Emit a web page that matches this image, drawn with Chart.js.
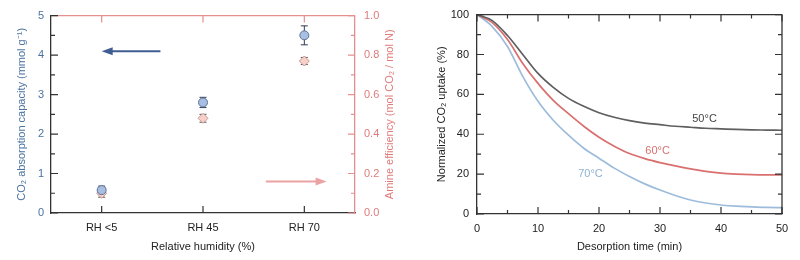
<!DOCTYPE html>
<html>
<head>
<meta charset="utf-8">
<script src="https://cdn.jsdelivr.net/npm/chart.js@4.4.0/dist/chart.umd.min.js"></script>
<style>
    body { margin: 0; background: #fff; }
    #wrap { position: relative; width: 800px; height: 260px; }
    canvas { position: absolute; top: 0; }
</style>
</head>
<body>
<div id="wrap">
    <canvas id="humidityChart" width="400" height="260" style="left:0"></canvas>
    <canvas id="desorptionChart" width="400" height="260" style="left:400px"></canvas>
</div>
<script>
// Left panel: capacity / amine efficiency vs humidity
const humidityLabels = ['RH <5', 'RH 45', 'RH 70'];
const capacityValues = [0.58, 2.8, 4.5];
const capacityErrors = [0.1, 0.13, 0.24];
const efficiencyValues = [0.1, 0.48, 0.77];
const efficiencyErrors = [0.02, 0.02, 0.018];

// Right panel: normalized uptake vs desorption time
const timeMinutes = [0, 2.5, 5, 7.5, 10, 12.5, 15, 17.5, 20, 22.5, 25, 27.5, 30, 32.5, 35, 37.5, 40, 42.5, 45, 47.5, 50];
const uptake50 = [100, 97, 89.5, 80, 70.5, 63.5, 58, 54, 50.8, 48.5, 46.8, 45.6, 44.8, 44, 43.5, 43, 42.7, 42.4, 42.2, 42.1, 42];
const uptake60 = [100, 96, 87.5, 75.5, 65.5, 57, 50.3, 44, 38.5, 34, 30.3, 27.8, 25.8, 24.1, 22.6, 21.4, 20.5, 20, 19.7, 19.6, 19.6];
const uptake70 = [100, 94, 84, 69, 56.5, 47, 39.5, 33, 28, 23, 18.8, 15.1, 12, 9.3, 7, 5.5, 4.5, 3.9, 3.6, 3.3, 3.2];

const FONT = 'Liberation Sans, Arial, sans-serif';
const BLUE_TEXT = '#4a72a0';
const PINK_TEXT = '#e07b7b';
const PINK_AXIS = '#e58f8f';
const AXIS_DARK = '#333';

// Minor ticks sit halfway between major ticks
function midpoints(vals) {
    const out = [];
    for (let i = 0; i < vals.length - 1; i++) out.push((vals[i] + vals[i + 1]) / 2);
    return out;
}

// Inward tick marks on a given edge of the plot area
function innerTicks(ctx, scale, edge, values, len, color) {
    const a = scale.chart.chartArea;
    ctx.save();
    ctx.strokeStyle = color;
    ctx.lineWidth = 1.2;
    ctx.beginPath();
    values.forEach(v => {
        const p = scale.getPixelForValue(v);
        if (edge === 'bottom') { ctx.moveTo(p, a.bottom); ctx.lineTo(p, a.bottom - len); }
        if (edge === 'top') { ctx.moveTo(p, a.top); ctx.lineTo(p, a.top + len); }
        if (edge === 'left') { ctx.moveTo(a.left, p); ctx.lineTo(a.left + len, p); }
        if (edge === 'right') { ctx.moveTo(a.right, p); ctx.lineTo(a.right - len, p); }
    });
    ctx.stroke();
    ctx.restore();
}

function edgeLine(ctx, x1, y1, x2, y2, color) {
    ctx.save();
    ctx.strokeStyle = color;
    ctx.lineWidth = 1.3;
    ctx.beginPath();
    ctx.moveTo(x1, y1);
    ctx.lineTo(x2, y2);
    ctx.stroke();
    ctx.restore();
}

function arrow(ctx, x1, x2, y, color) {
    const dir = x2 > x1 ? 1 : -1;
    ctx.save();
    ctx.strokeStyle = color;
    ctx.fillStyle = color;
    ctx.lineWidth = 2;
    ctx.beginPath();
    ctx.moveTo(x1, y);
    ctx.lineTo(x2 - dir * 8, y);
    ctx.stroke();
    ctx.beginPath();
    ctx.moveTo(x2, y);
    ctx.lineTo(x2 - dir * 11, y - 4);
    ctx.lineTo(x2 - dir * 11, y + 4);
    ctx.closePath();
    ctx.fill();
    ctx.restore();
}

function errorBars(ctx, chart, datasetIndex, scaleId, values, errors, color) {
    const meta = chart.getDatasetMeta(datasetIndex);
    const scale = chart.scales[scaleId];
    ctx.save();
    ctx.strokeStyle = color;
    ctx.lineWidth = 1;
    values.forEach((v, i) => {
        const x = meta.data[i].x;
        const yTop = scale.getPixelForValue(v + errors[i]);
        const yBot = scale.getPixelForValue(v - errors[i]);
        ctx.beginPath();
        ctx.moveTo(x, yTop); ctx.lineTo(x, yBot);
        ctx.moveTo(x - 3.5, yTop); ctx.lineTo(x + 3.5, yTop);
        ctx.moveTo(x - 3.5, yBot); ctx.lineTo(x + 3.5, yBot);
        ctx.stroke();
    });
    ctx.restore();
}

// Left chart
const humidityPlugin = {
    id: 'humidityDecor',
    beforeDatasetsDraw(chart) {
        const ctx = chart.ctx;
        errorBars(ctx, chart, 0, 'y', capacityValues, capacityErrors, '#2e3a55');
        errorBars(ctx, chart, 1, 'y1', efficiencyValues, efficiencyErrors, '#555');
    },
    afterDraw(chart) {
        const ctx = chart.ctx;
        const a = chart.chartArea;
        const { x, y, y1 } = chart.scales;
        edgeLine(ctx, a.left, a.top, a.right, a.top, PINK_AXIS);

        const xTicks = x.ticks.map(t => t.value);
        innerTicks(ctx, x, 'bottom', xTicks, 7, AXIS_DARK);
        innerTicks(ctx, x, 'top', xTicks, 7, PINK_AXIS);

        const yTicks = y.ticks.map(t => t.value);
        innerTicks(ctx, y, 'left', yTicks, 7, AXIS_DARK);
        innerTicks(ctx, y, 'left', midpoints(yTicks), 4, AXIS_DARK);

        const y1Ticks = y1.ticks.map(t => t.value);
        innerTicks(ctx, y1, 'right', y1Ticks, 7, PINK_AXIS);
        innerTicks(ctx, y1, 'right', midpoints(y1Ticks), 4, PINK_AXIS);

        // arrows point to the axis each series belongs to
        arrow(ctx, x.getPixelForValue(0.58), x.getPixelForValue(0), y.getPixelForValue(4.1), '#3f5d93');
        arrow(ctx, x.getPixelForValue(1.62), x.getPixelForValue(2.22), y1.getPixelForValue(0.16), '#eba2a2');

        // right axis title reads bottom-to-top like the left one
        ctx.save();
        ctx.translate(390, (a.top + a.bottom) / 2);
        ctx.rotate(-Math.PI / 2);
        ctx.font = '11px ' + FONT;
        ctx.fillStyle = PINK_TEXT;
        ctx.textAlign = 'center';
        ctx.textBaseline = 'middle';
        ctx.fillText('Amine efficiency (mol CO₂ / mol N)', 0, 0);
        ctx.restore();
    }
};

new Chart(document.getElementById('humidityChart'), {
    type: 'line',
    data: {
        labels: humidityLabels,
        datasets: [{
            label: 'Capacity',
            data: capacityValues,
            yAxisID: 'y',
            showLine: false,
            pointStyle: 'circle',
            pointRadius: 4.5,
            pointBackgroundColor: '#a9bfe2',
            pointBorderColor: '#5b7099',
            pointBorderWidth: 1
        }, {
            label: 'Efficiency',
            data: efficiencyValues,
            yAxisID: 'y1',
            showLine: false,
            pointStyle: 'rectRot',
            pointRadius: 5,
            pointBackgroundColor: '#f6d0c9',
            pointBorderColor: '#c99a94',
            pointBorderWidth: 1
        }]
    },
    options: {
        responsive: false,
        animation: false,
        layout: { padding: { top: 11, left: 0, right: 0, bottom: 0 } },
        plugins: { legend: { display: false }, tooltip: { enabled: false } },
        scales: {
            x: {
                type: 'category',
                offset: true,
                afterFit(scale) { scale.height = 47; },
                grid: { display: false, drawTicks: false },
                border: { color: AXIS_DARK, width: 1.3 },
                ticks: { color: '#222', font: { family: FONT, size: 11 }, padding: 8 },
                title: { display: true, text: 'Relative humidity (%)', color: '#222', font: { family: FONT, size: 11 }, padding: { bottom: 6 } }
            },
            y: {
                position: 'left',
                min: 0,
                max: 5,
                afterFit(scale) { scale.width = 51; },
                grid: { display: false, drawTicks: false },
                border: { color: AXIS_DARK, width: 1.3 },
                ticks: { stepSize: 1, color: BLUE_TEXT, font: { family: FONT, size: 11 }, padding: 7 },
                title: { display: true, text: 'CO₂ absorption capacity (mmol g⁻¹)', color: BLUE_TEXT, font: { family: FONT, size: 11 }, padding: { top: 15 } }
            },
            y1: {
                position: 'right',
                min: 0,
                max: 1,
                afterFit(scale) { scale.width = 45; },
                grid: { display: false, drawTicks: false },
                border: { color: PINK_AXIS, width: 1.3 },
                ticks: { stepSize: 0.2, color: PINK_TEXT, font: { family: FONT, size: 11 }, padding: 9, callback: v => v.toFixed(1) }
            }
        }
    },
    plugins: [humidityPlugin]
});

// Right chart
const curveLabels = [
    { text: '50°C', t: 37.3, v: 47.9, color: '#444' },
    { text: '60°C', t: 29.6, v: 31.6, color: '#d9706f' },
    { text: '70°C', t: 18.6, v: 20.3, color: '#8fb0d0' }
];

const desorptionPlugin = {
    id: 'desorptionDecor',
    afterDraw(chart) {
        const ctx = chart.ctx;
        const a = chart.chartArea;
        const { x, y } = chart.scales;
        edgeLine(ctx, a.left, a.top, a.right, a.top, AXIS_DARK);
        edgeLine(ctx, a.right, a.top, a.right, a.bottom, AXIS_DARK);

        const xTicks = x.ticks.map(t => t.value);
        const yTicks = y.ticks.map(t => t.value);
        ['bottom', 'top'].forEach(edge => {
            innerTicks(ctx, x, edge, xTicks, 7, AXIS_DARK);
            innerTicks(ctx, x, edge, midpoints(xTicks), 4, AXIS_DARK);
        });
        ['left', 'right'].forEach(edge => {
            innerTicks(ctx, y, edge, yTicks, 7, AXIS_DARK);
            innerTicks(ctx, y, edge, midpoints(yTicks), 4, AXIS_DARK);
        });

        ctx.save();
        ctx.font = '11px ' + FONT;
        ctx.textAlign = 'center';
        ctx.textBaseline = 'middle';
        curveLabels.forEach(l => {
            ctx.fillStyle = l.color;
            ctx.fillText(l.text, x.getPixelForValue(l.t), y.getPixelForValue(l.v));
        });
        ctx.restore();
    }
};

function curve(label, values, color) {
    return {
        label: label,
        data: timeMinutes.map((t, i) => ({ x: t, y: values[i] })),
        borderColor: color,
        borderWidth: 1.7,
        pointRadius: 0,
        cubicInterpolationMode: 'monotone',
        fill: false
    };
}

new Chart(document.getElementById('desorptionChart'), {
    type: 'line',
    data: {
        datasets: [
            curve('50°C', uptake50, '#5f5f5f'),
            curve('60°C', uptake60, '#d9706f'),
            curve('70°C', uptake70, '#9dbcdb')
        ]
    },
    options: {
        responsive: false,
        animation: false,
        layout: { padding: { top: 11, left: 0, right: 18, bottom: 0 } },
        plugins: { legend: { display: false }, tooltip: { enabled: false } },
        scales: {
            x: {
                type: 'linear',
                min: 0,
                max: 50,
                afterFit(scale) { scale.height = 46; },
                grid: { display: false, drawTicks: false },
                border: { color: AXIS_DARK, width: 1.3 },
                ticks: { stepSize: 10, color: '#222', font: { family: FONT, size: 11 }, padding: 8 },
                title: { display: true, text: 'Desorption time (min)', color: '#222', font: { family: FONT, size: 11 }, padding: { bottom: 6 } }
            },
            y: {
                min: 0,
                max: 100,
                afterFit(scale) { scale.width = 77; },
                grid: { display: false, drawTicks: false },
                border: { color: AXIS_DARK, width: 1.3 },
                ticks: { stepSize: 20, color: '#222', font: { family: FONT, size: 11 }, padding: 8 },
                title: { display: true, text: 'Normalized CO₂ uptake (%)', color: '#222', font: { family: FONT, size: 11 }, padding: { top: 35 } }
            }
        }
    },
    plugins: [desorptionPlugin]
});
</script>
</body>
</html>
